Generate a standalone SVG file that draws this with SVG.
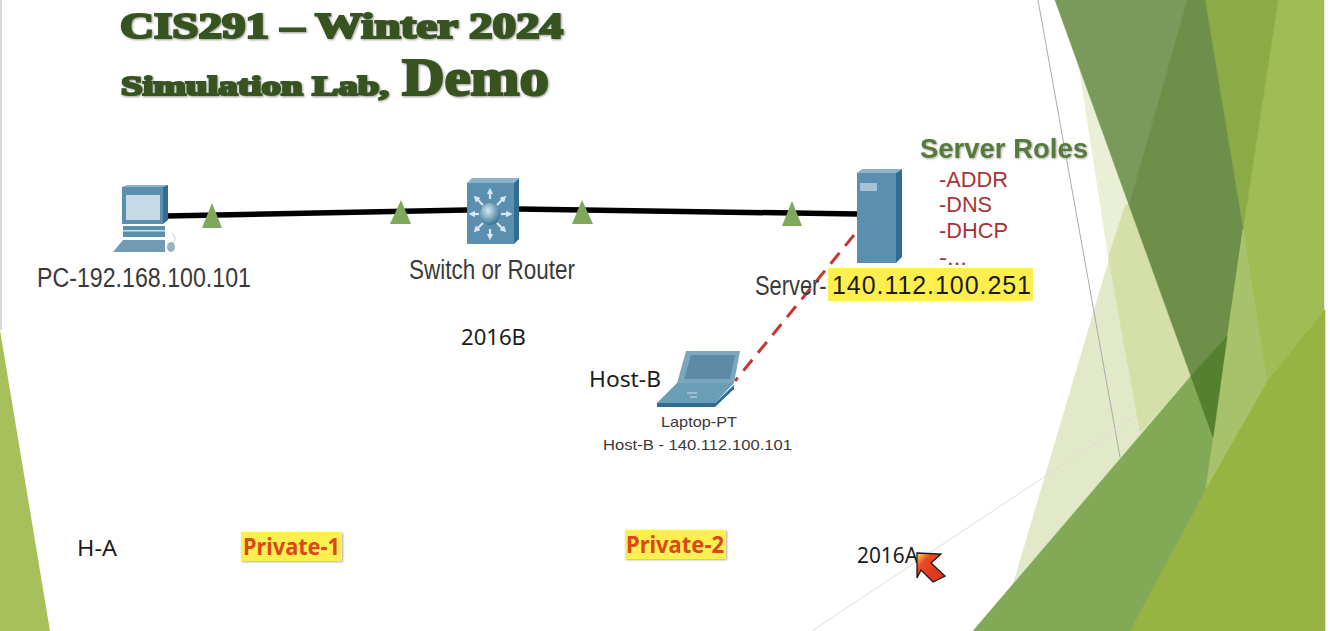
<svg xmlns="http://www.w3.org/2000/svg" width="1330" height="631" viewBox="0 0 1330 631">
<defs>
<radialGradient id="ball" cx="0.4" cy="0.35" r="0.7"><stop offset="0" stop-color="#d5e8f0"/><stop offset="1" stop-color="#2f6d92"/></radialGradient>
<linearGradient id="cur" x1="0" y1="0" x2="0.6" y2="0.6"><stop offset="0" stop-color="#ffe95a"/><stop offset="0.45" stop-color="#ea4a25"/><stop offset="1" stop-color="#e03a20"/></linearGradient>
<marker id="ah" viewBox="0 0 6 6" refX="3" refY="3" markerWidth="3" markerHeight="3" orient="auto"><path d="M0 0L6 3L0 6Z" fill="#d9e8f0"/></marker>
</defs>
<style>
text{font-family:"Liberation Sans",Arial,sans-serif}
.title{font-family:"Liberation Serif","DejaVu Serif",serif;font-weight:700;fill:#37531f;stroke:#37531f;stroke-width:2.2px;filter:drop-shadow(1.5px 1.5px 1px #999)}
.lbl{fill:#3a3a3a}
.role{fill:#a83232;font-size:22px}
.tah{font-family:"Noto Sans",sans-serif;fill:#1c1c1c;font-size:22px}
.priv{font-family:"Noto Sans",sans-serif;font-weight:700;fill:#d8481c;font-size:23px}
.hl{fill:#fdf04e}
.sh{filter:drop-shadow(1px 1px 1px #aaa)}
.tri{fill:#7fa85a}
.link{fill:none;stroke:#000;stroke-width:5.5}
.dev{fill:#5b8fb0}.devd{fill:#2f6d92}.devl{fill:#8db3ca}
.spoke{fill:none;stroke:#d9e8f0;stroke-width:2.2;marker-end:url(#ah)}
.bg polygon{stroke-width:.6}
</style>
<rect width="1330" height="631" fill="#fff"/>
<g id="background" class="bg">
<path d="M1 0V330" stroke="#ccc" stroke-width="1.5" fill="none"/>
<polygon points="0,330 50,631 0,631" fill="#a8c05c"/>
<polygon points="1013,584 1125,205 1191,376" fill="#e2e9c8"/>
<polygon points="1078,62 1129,205 1125,205 1108,257" fill="#eaf0d5"/>
<polygon points="1125,205 1129,205 1191,376 1140,433 1108,257" fill="#d4e0a8"/>
<polygon points="1278,0 1324,0 1324,320 1267,392 1243,229" fill="#9fbc55" stroke="#9fbc55"/>
<polygon points="1205,0 1278,0 1243,229" fill="#8aab45" stroke="#8aab45"/>
<polygon points="1055,0 1187,0 1129,205" fill="#7a9a5c" stroke="#7a9a5c"/>
<polygon points="1187,0 1205,0 1243,229 1213,437 1129,205" fill="#6e8f4a" stroke="#6e8f4a"/>
<polygon points="1243,229 1267,382 1205,491 1213,437" fill="#a8c26c" stroke="#a8c26c"/>
<polygon points="1130,631 1205,491 1267,382 1325,310 1325,631" fill="#97b342" stroke="#97b342"/>
<polygon points="973,631 1191,376 1227,336 1213,437 1205,491 1130,631" fill="#82a955" stroke="#82a955"/>
<polygon points="1191,376 1227,336 1213,437" fill="#55802f" stroke="#55802f"/>
<path d="M1038 0L1120 457" stroke="#aaa" stroke-width="1" fill="none"/>
<path d="M812 631L1136 416" stroke="#ddd" stroke-width="1" fill="none"/>
</g>
<text class="title" x="120" y="38" font-size="35" textLength="443" lengthAdjust="spacingAndGlyphs">CIS291 – Winter 2024</text>
<text class="title" x="121" y="95" font-size="27" textLength="268" lengthAdjust="spacingAndGlyphs">Simulation Lab,</text>
<text class="title" x="402" y="95" font-size="52" textLength="147" lengthAdjust="spacingAndGlyphs">Demo</text>
<g id="connectors">
<path class="link" d="M166 216L467 210"/>
<path class="link" d="M518 209L857 214"/>
<path d="M854 235L735 381" fill="none" stroke="#c8352e" stroke-width="3" stroke-dasharray="14 9"/>
<polygon class="tri" points="212,203 222,228 202,228"/>
<polygon class="tri" points="401,200 411,224 390,224"/>
<polygon class="tri" points="582,200 593,224 572,224"/>
<polygon class="tri" points="792,201 802,226 782,226"/>
</g>
<g id="pc">
<polygon class="devl" points="122,187 127,185 168,185 163,187"/>
<polygon class="devd" points="163,187 168,185 168,220 163,224"/>
<rect class="dev" x="122" y="187" width="41" height="37"/>
<rect x="126" y="195" width="34" height="25" fill="#c5dbe8"/>
<polygon class="dev" points="123,226 165,226 165,237 123,237"/>
<rect x="123" y="230" width="42" height="1.5" fill="#cfe0ea"/>
<polygon fill="#6f9bb5" points="123,240 165,240 165,252 113,252"/>
<path d="M172 233Q178 238 172 245" fill="none" stroke="#ccc" stroke-width="1"/>
<ellipse cx="171" cy="247" rx="4" ry="5" fill="#9ab3c2"/>
<text class="lbl" x="37" y="287" font-size="27" textLength="214" lengthAdjust="spacingAndGlyphs">PC-192.168.100.101</text>
</g>
<g id="switch">
<polygon class="devl" points="467,183 472,178 519,178 514,183"/>
<polygon class="devd" points="514,183 519,178 519,239 514,244"/>
<rect class="dev" x="467" y="183" width="47" height="61"/>
<path class="spoke" d="M490 199V191"/>
<path class="spoke" d="M490 229V237"/>
<path class="spoke" d="M479 214H472"/>
<path class="spoke" d="M501 214H509"/>
<path class="spoke" d="M483 205L476 198"/>
<path class="spoke" d="M497 205L504 198"/>
<path class="spoke" d="M483 223L476 230"/>
<path class="spoke" d="M497 223L504 230"/>
<ellipse cx="490" cy="214" rx="10" ry="11" fill="url(#ball)"/>
<text class="lbl" x="409" y="279" font-size="27" textLength="166" lengthAdjust="spacingAndGlyphs">Switch or Router</text>
</g>
<g id="server">
<polygon class="devl" points="857,173 862,169 902,169 896,173"/>
<polygon class="devd" points="896,173 902,169 902,257 896,263"/>
<rect class="dev" x="857" y="173" width="39" height="90"/>
<rect x="860" y="183" width="17" height="8" fill="#a5c3d5"/>
<text class="sh" x="920" y="158" font-size="27" font-weight="700" fill="#557a3a" textLength="168" lengthAdjust="spacingAndGlyphs">Server Roles</text>
<text class="role" x="939" y="187" textLength="69" lengthAdjust="spacingAndGlyphs">-ADDR</text>
<text class="role" x="939" y="212" textLength="53" lengthAdjust="spacingAndGlyphs">-DNS</text>
<text class="role" x="939" y="238" textLength="69" lengthAdjust="spacingAndGlyphs">-DHCP</text>
<text class="role" x="939" y="265" textLength="28" lengthAdjust="spacingAndGlyphs">-...</text>
<rect class="hl" x="828" y="268" width="205" height="33"/>
<text class="lbl" transform="translate(755 295) scale(.81 1)" font-size="27">Server-</text>
<text x="832" y="294" font-size="25" fill="#1c1c1c" textLength="199">140.112.100.251</text>
</g>
<g id="laptop">
<polygon fill="#7ba6bd" points="686,351 740,351 734,383 677,383"/>
<polygon fill="#5d8aa5" points="691,355 735,355 730,379 684,379"/>
<polygon fill="#6a9db6" points="677,383 734,383 715,403 657,403"/>
<path d="M687 393h10M690 397h7" stroke="#cfe0ea" stroke-width="1.2" fill="none"/>
<polygon class="devd" points="657,403 715,403 734,385 734,389 715,407 657,407"/>
<text class="tah" x="589" y="387" textLength="72" lengthAdjust="spacingAndGlyphs">Host-B</text>
<text class="lbl" x="661" y="427" font-size="14.5" textLength="76" lengthAdjust="spacingAndGlyphs">Laptop-PT</text>
<text class="lbl" x="603" y="450" font-size="14.5" textLength="189" lengthAdjust="spacingAndGlyphs">Host-B - 140.112.100.101</text>
</g>
<text class="tah" x="461" y="345" textLength="65" lengthAdjust="spacingAndGlyphs">2016B</text>
<text class="tah" x="77" y="556" textLength="40" lengthAdjust="spacingAndGlyphs">H-A</text>
<g id="private-1">
<rect class="hl sh" x="241" y="532" width="101" height="29"/>
<text class="priv" x="243" y="555" textLength="97" lengthAdjust="spacingAndGlyphs">Private-1</text>
</g>
<g id="private-2">
<rect class="hl sh" x="625" y="530" width="101" height="29"/>
<text class="priv" x="626" y="553" textLength="98" lengthAdjust="spacingAndGlyphs">Private-2</text>
</g>
<text class="tah" x="857" y="563" textLength="61" lengthAdjust="spacingAndGlyphs">2016A</text>
<polygon points="917,553 941,554 931,563 945,576 933,582 921,570 917,578" fill="url(#cur)" stroke="#1a1a1a" stroke-width="1.3"/>
</svg>
